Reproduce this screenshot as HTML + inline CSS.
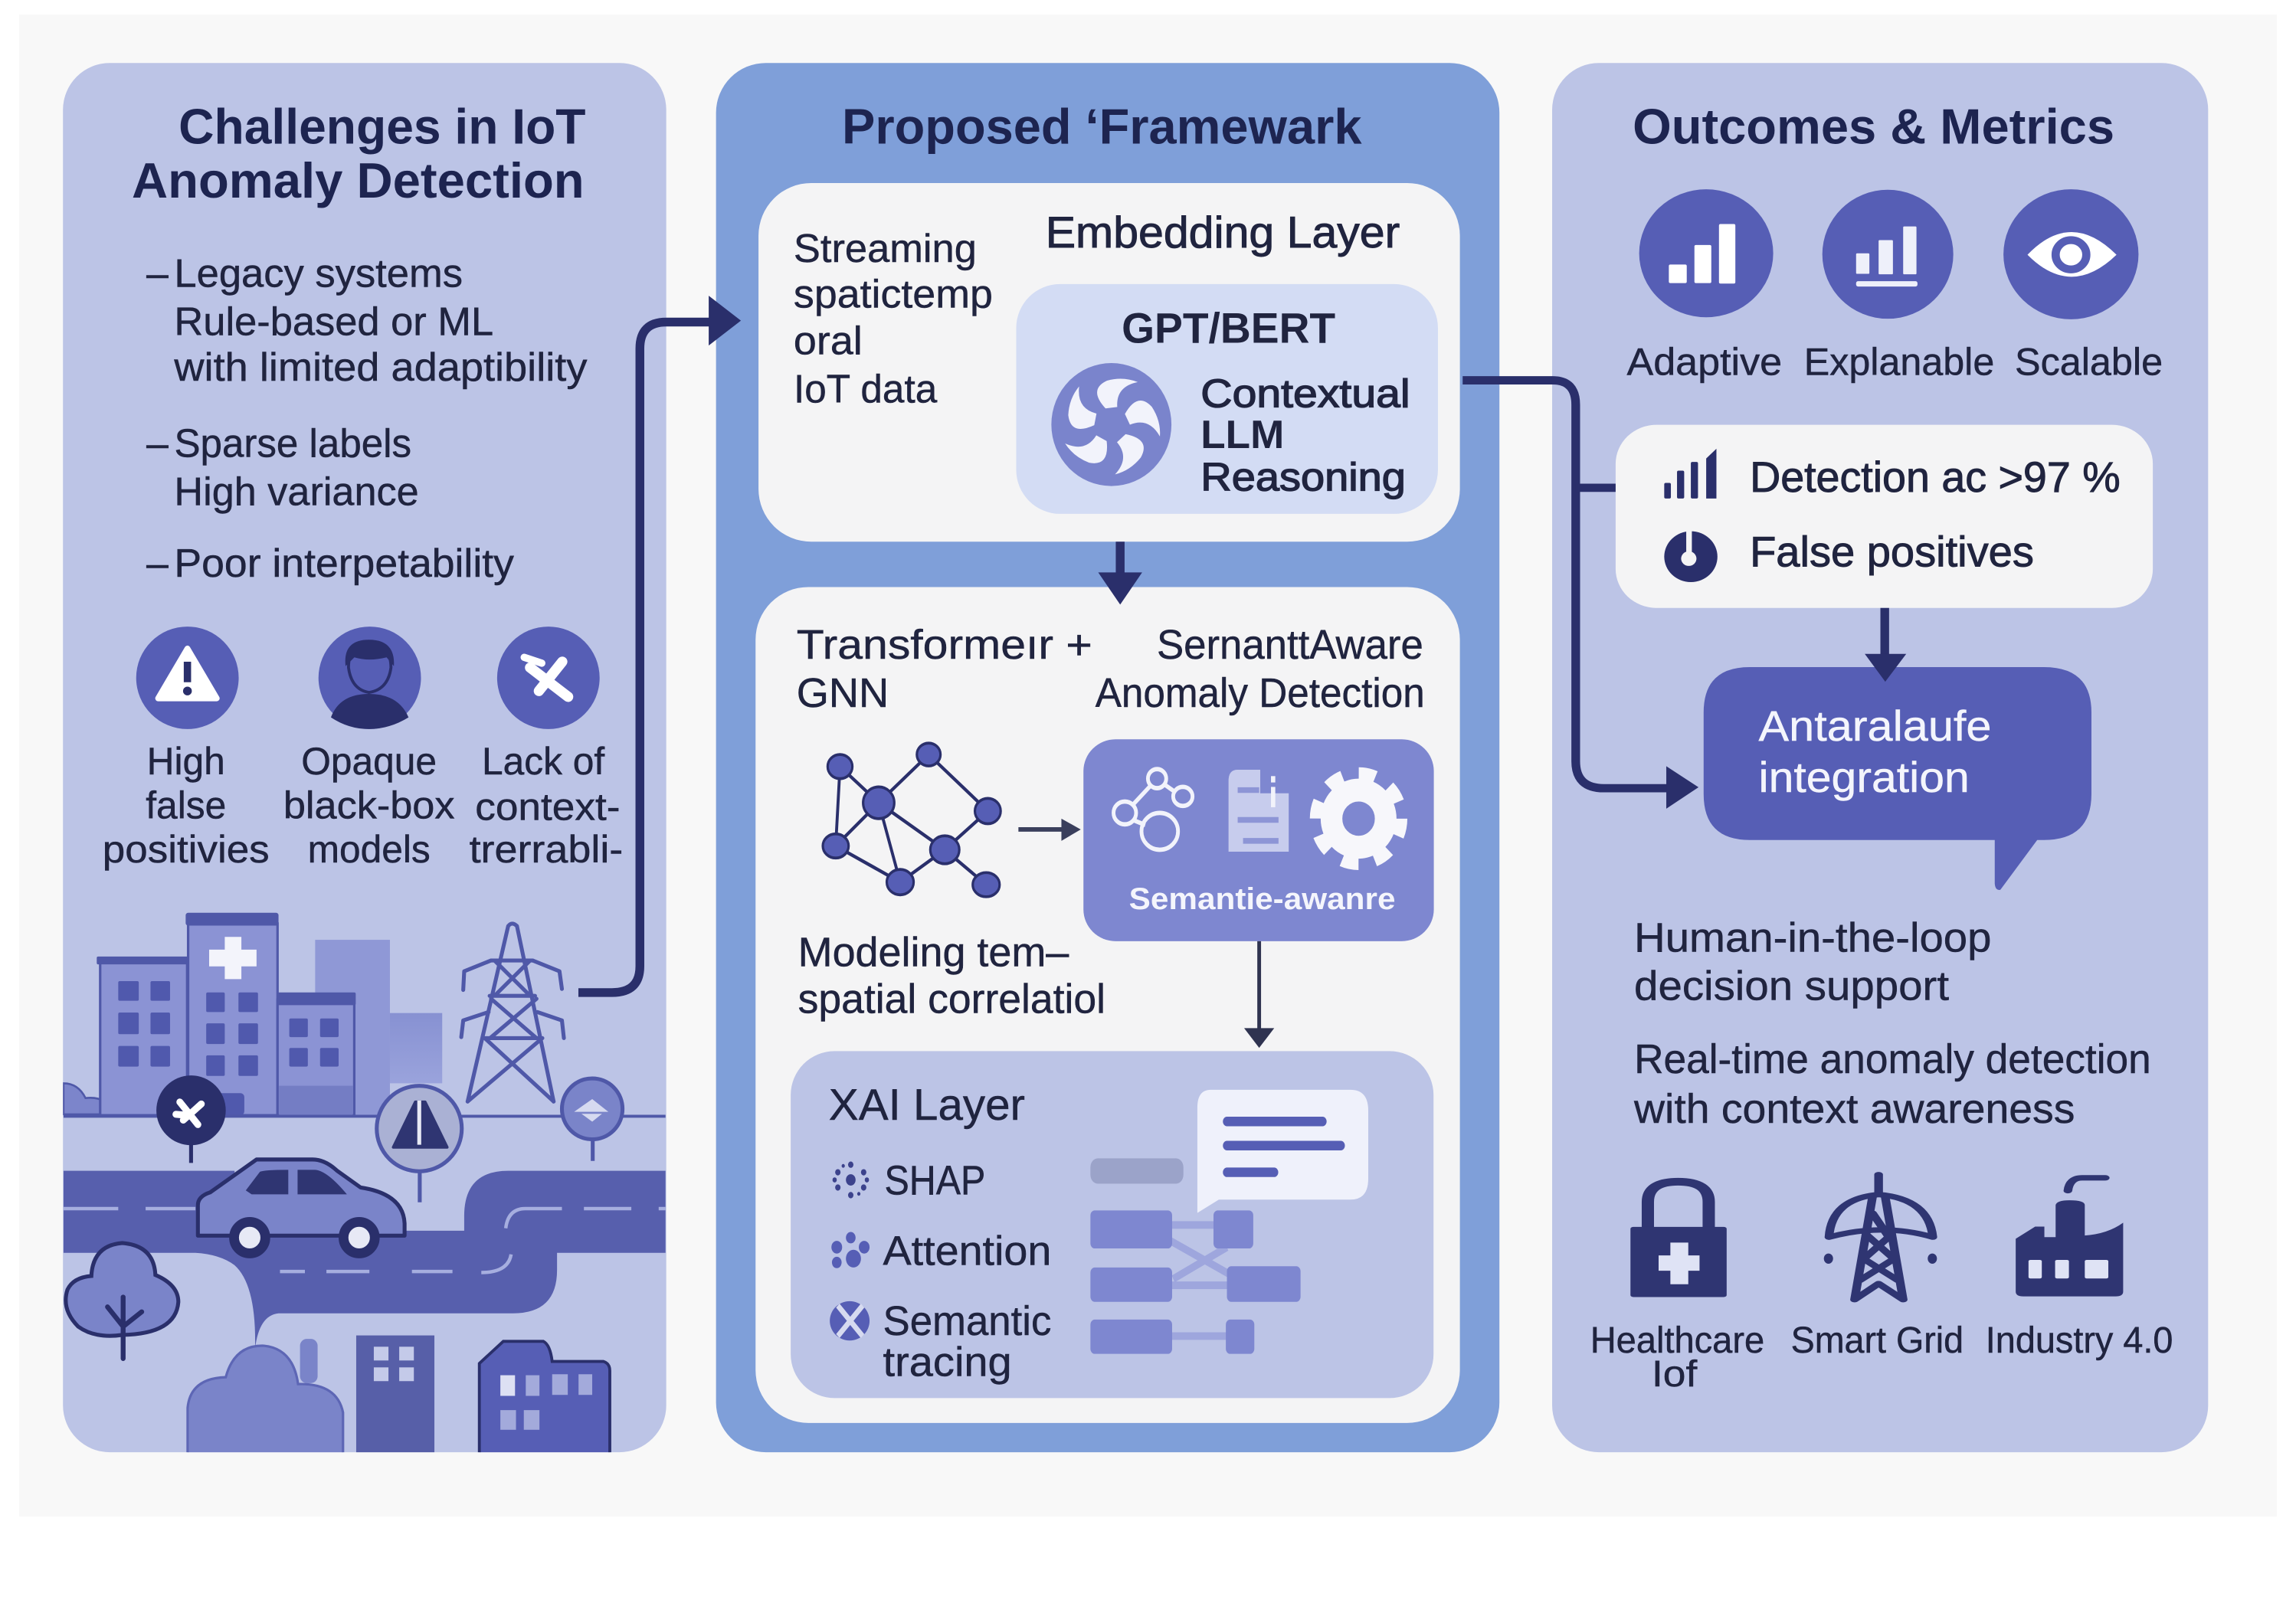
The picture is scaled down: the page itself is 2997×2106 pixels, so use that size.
<!DOCTYPE html>
<html>
<head>
<meta charset="utf-8">
<style>
html,body{margin:0;padding:0;background:#fff;width:2997px;height:2106px;overflow:hidden}
svg{display:block}
text{font-family:"Liberation Sans",sans-serif;fill:#20243f;stroke:#20243f;stroke-width:.25px}
text.w{fill:#f4f5fc;stroke:#f4f5fc}
.t{font-size:34px;font-weight:bold;fill:#1d2450;stroke:none}
.b{font-size:27px}
.m{font-size:26px}
</style>
</head>
<body>
<svg xmlns="http://www.w3.org/2000/svg" width="2997" height="2106" viewBox="0 0 1568 1101.8">
<defs>
<clipPath id="lp"><rect x="43" y="43" width="412" height="949" rx="32"/></clipPath>
<linearGradient id="bgb" x1="0" y1="0" x2="0" y2="1"><stop offset="0" stop-color="#8791d2"/><stop offset="1" stop-color="#9aa3dc"/></linearGradient>
</defs>
<rect width="1568" height="1102" fill="#fff"/>
<rect x="13" y="10" width="1542" height="1026" fill="#f8f8f8"/>
<rect x="43" y="43" width="412" height="949" rx="32" fill="#bcc4e6"/>
<rect x="489" y="43" width="535" height="949" rx="34" fill="#7f9fd9"/>
<rect x="1060" y="43" width="448" height="949" rx="32" fill="#bcc4e6"/>

<!-- LEFT TEXT -->
<text class="t" x="122" y="98" textLength="278" lengthAdjust="spacingAndGlyphs">Challenges in IoT</text>
<text class="t" x="90" y="135" textLength="309" lengthAdjust="spacingAndGlyphs">Anomaly Detection</text>
<g class="b">
<text x="100" y="196">–</text>
<text x="119" y="196" textLength="197" lengthAdjust="spacingAndGlyphs">Legacy systems</text>
<text x="119" y="229" textLength="218" lengthAdjust="spacingAndGlyphs">Rule-based or ML</text>
<text x="119" y="260" textLength="282" lengthAdjust="spacingAndGlyphs">with limited adaptibility</text>
<text x="100" y="312">–</text>
<text x="119" y="312" textLength="162" lengthAdjust="spacingAndGlyphs">Sparse labels</text>
<text x="119" y="345" textLength="167" lengthAdjust="spacingAndGlyphs">High variance</text>
<text x="100" y="394">–</text>
<text x="119" y="394" textLength="232" lengthAdjust="spacingAndGlyphs">Poor interpetability</text>
</g>

<!-- left icons -->
<circle cx="128" cy="463" r="35" fill="#565eb5"/>
<path d="M128 443 L148 477 H108 Z" fill="#fff" stroke="#fff" stroke-width="4" stroke-linejoin="round"/>
<rect x="125.500" y="452" width="5" height="14" fill="#2a2f6b"/><circle cx="128" cy="472" r="3" fill="#2a2f6b"/>
<circle cx="252.500" cy="463" r="35" fill="#565eb5"/>
<path d="M226 490 Q232 474 252 474 Q272 474 279 490 Q266 498 252 498 Q238 498 226 490Z" fill="#2a2f6b"/>
<path d="M238 456 Q238 440 252 440 Q267 440 267 456 Q265 471 252 473 Q240 471 238 456Z" fill="#565eb5" stroke="#2a2f6b" stroke-width="2"/>
<path d="M236 455 Q234 437 252 437 Q270 437 269 455 L264 449 Q252 452 242 449Z" fill="#2a2f6b"/>
<circle cx="374.500" cy="463" r="35" fill="#565eb5"/>
<path d="M362 456 L388 476 M384 452 L368 472" stroke="#fff" stroke-width="7" stroke-linecap="round" fill="none"/>
<path d="M358 449 L370 453" stroke="#fff" stroke-width="5" stroke-linecap="round"/>

<g class="m" text-anchor="middle" style="font-size:26px">
<text x="127" y="529">High</text>
<text x="127" y="559">false</text>
<text x="127" y="589" textLength="114" lengthAdjust="spacingAndGlyphs">positivies</text>
<text x="252" y="529">Opaque</text>
<text x="252" y="559" textLength="117" lengthAdjust="spacingAndGlyphs">black-box</text>
<text x="252" y="589">models</text>
<text x="371" y="529">Lack of</text>
<text x="374" y="560" textLength="99" lengthAdjust="spacingAndGlyphs">context-</text>
<text x="373" y="589" textLength="105" lengthAdjust="spacingAndGlyphs">trerrabli-</text>
</g>

<!-- CITY ILLUSTRATION -->
<g clip-path="url(#lp)">
<g transform="translate(0,575.5) scale(.3337,.3357)">
<rect x="645" y="198" width="153" height="360" fill="#8f98d6"/>
<rect x="798" y="347" width="107" height="143" fill="url(#bgb)"/>
<path d="M130 490 Q160 490 175 520 Q220 515 232 553 H130Z" fill="#7c85cb" stroke="#4f58a8" stroke-width="4"/>
<rect x="205" y="245" width="178" height="310" fill="#8b93d4" stroke="#4f58a8" stroke-width="5"/>
<rect x="198" y="232" width="187" height="16" rx="3" fill="#4f58a8"/>
<g fill="#5059ad">
<rect x="242" y="282" width="42" height="40" rx="3"/><rect x="308" y="282" width="40" height="40" rx="3"/>
<rect x="242" y="346" width="42" height="44" rx="3"/><rect x="308" y="346" width="40" height="44" rx="3"/>
<rect x="242" y="414" width="42" height="42" rx="3"/><rect x="308" y="414" width="40" height="42" rx="3"/>
</g>
<rect x="385" y="165" width="183" height="390" fill="#8b93d4" stroke="#4f58a8" stroke-width="5"/>
<rect x="380" y="143" width="190" height="26" rx="5" fill="#4f58a8"/>
<path d="M460 192 H494 V218 H525 V252 H494 V278 H460 V252 H428 V218 H460Z" fill="#f3f4fb"/>
<g fill="#5059ad">
<rect x="422" y="305" width="38" height="40" rx="3"/><rect x="488" y="305" width="40" height="40" rx="3"/>
<rect x="422" y="368" width="38" height="42" rx="3"/><rect x="488" y="368" width="40" height="42" rx="3"/>
<rect x="422" y="433" width="38" height="42" rx="3"/><rect x="488" y="433" width="40" height="42" rx="3"/>
<rect x="440" y="510" width="60" height="45" rx="8"/>
</g>
<rect x="568" y="320" width="157" height="235" fill="#8b93d4" stroke="#4f58a8" stroke-width="5"/>
<rect x="568" y="305" width="160" height="26" rx="3" fill="#4f58a8"/>
<rect x="571" y="495" width="151" height="60" fill="#747dc4"/>
<g fill="#5059ad">
<rect x="592" y="358" width="38" height="38" rx="3"/><rect x="655" y="358" width="38" height="38" rx="3"/>
<rect x="592" y="418" width="38" height="38" rx="3"/><rect x="655" y="418" width="38" height="38" rx="3"/>
</g>
<!-- pylon -->
<g fill="none" stroke="#4f58a8" stroke-width="8" stroke-linecap="round" stroke-linejoin="round">
<path d="M957 527 L1040 170 Q1048 160 1058 170 L1133 527"/>
<path d="M1005 240 H1090 M1002 312 H1095 M992 398 H1110 M1012 240 L1085 312 M1085 240 L1012 312 M1005 318 L1098 398 M1098 318 L1003 398 M992 398 L1133 527 M1110 398 L957 527"/>
<path d="M1005 240 L950 262 L948 300 M1090 240 L1145 262 L1150 298"/>
<path d="M1000 345 L948 362 L944 396 M1100 345 L1150 362 L1154 398"/>
</g>
<line x1="130" y1="557" x2="1362" y2="557" stroke="#4f58a8" stroke-width="6"/>
<!-- road -->
<path d="M130 668 H480 V790 H950 V760 Q950 668 1040 668 H1362 V835 H1140 V870 Q1140 958 1050 958 H570 Q530 962 522 1030 Q525 900 480 860 Q450 838 400 835 H130Z" fill="#575fad"/>
<g fill="none" stroke="#a6aedf" stroke-width="7">
<path d="M130 745 H242 M298 745 H400"/>
<path d="M1035 785 Q1040 745 1075 745 H1150 M1195 745 H1292 M1348 745 H1362"/>
<path d="M573 873 H624 M668 873 H756 M843 873 H926 M985 875 Q1040 875 1046 838"/>
</g>
<!-- car -->
<path d="M405 800 V738 Q405 720 430 712 L525 645 H640 Q665 645 690 668 L738 702 Q825 715 828 775 V800Z" fill="#7a84c9" stroke="#2a2f6b" stroke-width="8" stroke-linejoin="round"/>
<path d="M503 708 L532 670 Q540 666 590 666 V716 H515Z" fill="#2f3572"/>
<path d="M609 666 H645 Q670 668 710 716 H609Z" fill="#2f3572"/>
<circle cx="511" cy="804" r="32" fill="#e7e9f5" stroke="#2a2f6b" stroke-width="20"/>
<circle cx="735" cy="804" r="32" fill="#e7e9f5" stroke="#2a2f6b" stroke-width="20"/>
<!-- signs -->
<line x1="391" y1="600" x2="391" y2="652" stroke="#2a2f6b" stroke-width="8"/>
<circle cx="391" cy="545" r="71" fill="#2a2f6b"/>
<path d="M368 528 L405 574 M412 532 L375 565 M360 553 L382 555" stroke="#fff" stroke-width="14" stroke-linecap="round"/>
<line x1="859" y1="665" x2="859" y2="732" stroke="#4f58a8" stroke-width="8"/>
<circle cx="858" cy="582" r="87" fill="#aab1d4" stroke="#4f58a8" stroke-width="8"/>
<path d="M850 528 L805 620 H915 L870 528 Z" fill="#2f3572" stroke="#2f3572" stroke-width="6" stroke-linejoin="round"/>
<rect x="854" y="525" width="8" height="90" fill="#e7e9f5"/>
<line x1="1213" y1="600" x2="1213" y2="648" stroke="#4f58a8" stroke-width="8"/>
<circle cx="1212" cy="542" r="62" fill="#7a84c9" stroke="#4f58a8" stroke-width="8"/>
<path d="M1212 522 L1245 548 H1175Z M1190 552 H1232 L1212 568Z" fill="#d6daf0"/>
<!-- tree -->
<path d="M250 1002 Q195 1010 160 985 Q125 950 138 910 Q150 885 187 882 Q190 820 250 815 Q315 820 318 880 Q365 900 365 935 Q360 1000 250 1002Z" fill="#7a84c9" stroke="#2a2f6b" stroke-width="8"/>
<path d="M252 925 V1050 M220 945 L252 985 L290 955" fill="none" stroke="#2a2f6b" stroke-width="10" stroke-linecap="round"/>
<!-- bottom -->
<rect x="614" y="1010" width="36" height="90" rx="14" fill="#7a84c9"/>
<path d="M384 1245 V1150 Q390 1090 462 1088 Q480 1022 540 1024 Q600 1030 610 1102 Q690 1100 702 1160 V1245Z" fill="#7a84c9" stroke="#5d66b5" stroke-width="5"/>
<rect x="729" y="1003" width="160" height="242" fill="#575fa8"/>
<g fill="#c4cae9"><rect x="765" y="1026" width="30" height="28"/><rect x="817" y="1026" width="30" height="28"/><rect x="765" y="1068" width="30" height="28"/><rect x="817" y="1068" width="30" height="28"/></g>
<path d="M981 1245 V1060 L1030 1015 H1112 Q1126 1022 1130 1056 H1235 Q1248 1060 1248 1075 V1245Z" fill="#565eb5" stroke="#2a2f6b" stroke-width="6"/>
<rect x="1024" y="1084" width="30" height="42" fill="#dde0f3"/>
<g fill="#a3aadb"><rect x="1076" y="1084" width="28" height="42"/><rect x="1130" y="1082" width="32" height="42"/><rect x="1184" y="1082" width="28" height="42"/><rect x="1024" y="1155" width="32" height="40"/><rect x="1072" y="1155" width="32" height="40"/></g>
</g>
</g>

<!-- MIDDLE -->
<text class="t" x="575" y="98" textLength="355" lengthAdjust="spacingAndGlyphs">Proposed ‘Framewark</text>
<rect x="518" y="125" width="479" height="245" rx="36" fill="#f4f4f5"/>
<g class="b">
<text x="542" y="179" textLength="125" lengthAdjust="spacingAndGlyphs">Streaming</text>
<text x="542" y="210" textLength="136" lengthAdjust="spacingAndGlyphs">spatictemp</text>
<text x="542" y="242" textLength="47" lengthAdjust="spacingAndGlyphs">oral</text>
<text x="542" y="275" textLength="98" lengthAdjust="spacingAndGlyphs">IoT data</text>
</g>
<text x="714" y="169" style="font-size:30px;stroke-width:.5px" textLength="242" lengthAdjust="spacingAndGlyphs">Embedding Layer</text>
<rect x="694" y="194" width="288" height="157" rx="30" fill="#d3dcf4"/>
<text x="766" y="234" style="font-size:29px;font-weight:bold;stroke:none" textLength="146" lengthAdjust="spacingAndGlyphs">GPT/BERT</text>
<ellipse cx="759" cy="290" rx="41" ry="42" fill="#7a84cc"/>
<g transform="translate(759,290)" fill="#f2f3fb">
<path d="M-4 -11 Q-16 -24 -3 -30 Q8 -33 18 -29 Q3 -26 4 -12Z"/>
<path transform="rotate(72)" d="M-4 -11 Q-16 -24 -3 -30 Q8 -33 18 -29 Q3 -26 4 -12Z"/>
<path transform="rotate(144)" d="M-4 -11 Q-16 -24 -3 -30 Q8 -33 18 -29 Q3 -26 4 -12Z"/>
<path transform="rotate(216)" d="M-4 -11 Q-16 -24 -3 -30 Q8 -33 18 -29 Q3 -26 4 -12Z"/>
<path transform="rotate(288)" d="M-4 -11 Q-16 -24 -3 -30 Q8 -33 18 -29 Q3 -26 4 -12Z"/>
</g>
<text x="820" y="278" style="font-size:27px;stroke-width:.7px" textLength="143" lengthAdjust="spacingAndGlyphs">Contextual</text>
<text x="820" y="306" style="font-size:27px;font-weight:bold;stroke:none" textLength="57" lengthAdjust="spacingAndGlyphs">LLM</text>
<text x="820" y="335" style="font-size:27px;stroke-width:.7px" textLength="140" lengthAdjust="spacingAndGlyphs">Reasoning</text>

<rect x="516" y="401" width="481" height="571" rx="36" fill="#f4f4f5"/>
<line x1="765" y1="370" x2="765" y2="396" stroke="#2a2f6b" stroke-width="6"/>
<path d="M750 391 H780 L765 413Z" fill="#2a2f6b"/>
<g style="font-size:28px">
<text x="544" y="450" textLength="202" lengthAdjust="spacingAndGlyphs">Transformeır +</text>
<text x="544" y="483" textLength="63" lengthAdjust="spacingAndGlyphs">GNN</text>
<text x="790" y="450" textLength="182" lengthAdjust="spacingAndGlyphs">SernanttAware</text>
<text x="748" y="483" textLength="225" lengthAdjust="spacingAndGlyphs">Anomaly Detection</text>
<text x="545" y="660" textLength="185" lengthAdjust="spacingAndGlyphs">Modeling tem–</text>
<text x="545" y="692" textLength="210" lengthAdjust="spacingAndGlyphs">spatial correlatiol</text>
</g>
<rect x="540" y="718" width="439" height="237" rx="30" fill="#bcc4e6"/>

<g transform="translate(470.9,366.2) scale(.367,.4337)">
<!-- network -->
<g stroke="#2a2f6b" stroke-width="5.500" fill="none">
<path d="M280 363 L352 420 M280 363 L272 488 M352 420 L445 344 M445 344 L555 433 M352 420 L272 488 M352 420 L392 545 M352 420 L475 494 M272 488 L392 545 M392 545 L475 494 M475 494 L555 433 M475 494 L552 549"/>
</g>
<g fill="#565eb5" stroke="#2a2f6b" stroke-width="4.500">
<ellipse cx="280" cy="363" rx="23" ry="19"/><ellipse cx="445" cy="344" rx="22" ry="18"/><ellipse cx="352" cy="420" rx="29" ry="25"/><ellipse cx="555" cy="433" rx="24" ry="20"/><ellipse cx="272" cy="488" rx="24" ry="19"/><ellipse cx="475" cy="494" rx="27" ry="22"/><ellipse cx="392" cy="545" rx="25" ry="20"/><ellipse cx="552" cy="549" rx="25" ry="19"/>
</g>
<line x1="612" y1="462" x2="700" y2="462" stroke="#3a3f5c" stroke-width="7"/>
<path d="M692 445 L728 462 L692 480Z" fill="#3a3f5c"/>
<!-- semantic box -->
<rect x="733" y="320" width="652" height="318" rx="60" ry="50" fill="#7e87d0"/>
<g fill="none" stroke="#f2f3fb" stroke-width="7">
<ellipse cx="870" cy="382" rx="17" ry="15"/><ellipse cx="918" cy="410" rx="18" ry="15"/><ellipse cx="810" cy="436" rx="21" ry="18"/><ellipse cx="875" cy="465" rx="34" ry="29"/>
<path d="M858 393 L824 424 M885 392 L902 402 M828 448 L848 455"/>
</g>
<path d="M1003 385 Q1003 368 1020 368 H1062 V405 H1115 V497 H1003Z" fill="#c7cced"/>
<rect x="1082" y="378" width="8" height="10" fill="#f2f3fb"/><rect x="1082" y="395" width="8" height="32" fill="#f2f3fb"/>
<path d="M1020 400 H1060 M1020 447 H1096 M1030 480 H1096" stroke="#8d95d6" stroke-width="9"/>
<g transform="translate(1245,445) scale(1.12,1)">
<circle r="68" fill="none" stroke="#f7f7fb" stroke-width="26" stroke-dasharray="27 26.400"/>
<circle r="45" fill="none" stroke="#f7f7fb" stroke-width="36"/>
<circle r="20" fill="#7e87d0"/>
</g>
<line x1="1060" y1="638" x2="1060" y2="782" stroke="#2f3350" stroke-width="7"/>
<path d="M1032 775 H1088 L1060 806Z" fill="#2f3350"/>
<!-- xai graphics -->
<rect x="746" y="980" width="173" height="40" rx="14" fill="#9ba3c9"/>
<g stroke="#9ea6dd" stroke-width="12" fill="none">
<path d="M895 1085 H985 M895 1110 L1010 1165 M1000 1120 L900 1170 M895 1180 H1005 M895 1260 H1005"/>
</g>
<g fill="#7e87d0">
<rect x="746" y="1062" width="152" height="60" rx="8"/><rect x="975" y="1062" width="74" height="60" rx="8"/>
<rect x="746" y="1152" width="152" height="54" rx="8"/><rect x="1000" y="1150" width="137" height="56" rx="8"/>
<rect x="746" y="1234" width="152" height="54" rx="8"/><rect x="998" y="1234" width="53" height="54" rx="8"/>
</g>
<path d="M970 872 H1230 Q1263 872 1263 905 V1012 Q1263 1045 1230 1045 H985 L945 1066 V900 Q945 872 970 872Z" fill="#eff1fb"/>
<g stroke-linecap="round" stroke="#565eb5" stroke-width="15">
<line x1="1000" y1="922" x2="1178" y2="922"/><line x1="1000" y1="960" x2="1212" y2="960"/><line x1="1000" y1="1002" x2="1088" y2="1002"/>
</g>
<!-- list icons -->
<g fill="#3c428c">
<circle cx="300" cy="1014" r="9"/><circle cx="300" cy="990" r="5"/><circle cx="300" cy="1038" r="5"/><circle cx="276" cy="1002" r="5"/><circle cx="276" cy="1026" r="5"/><circle cx="324" cy="1002" r="5"/><circle cx="324" cy="1026" r="5"/><circle cx="270" cy="1014" r="4"/><circle cx="330" cy="1014" r="4"/><circle cx="286" cy="992" r="3"/><circle cx="315" cy="1036" r="3"/>
</g>
<g fill="#565eb5">
<circle cx="300" cy="1105" r="9"/><circle cx="325" cy="1120" r="10"/><circle cx="305" cy="1138" r="14"/><circle cx="274" cy="1120" r="10"/><circle cx="274" cy="1144" r="9"/>
</g>
<ellipse cx="298" cy="1236" rx="37" ry="31" fill="#565eb5"/>
<path d="M276 1212 L322 1260 M322 1212 L276 1260" stroke="#d6daf0" stroke-width="9"/>
</g>
<text class="w" x="771" y="621" style="font-size:21px;font-weight:bold;stroke:none" textLength="182" lengthAdjust="spacingAndGlyphs">Semantie-awanre</text>
<text x="566" y="765" style="font-size:30px" textLength="134" lengthAdjust="spacingAndGlyphs">XAI Layer</text>
<g style="font-size:28px">
<text x="604" y="816" textLength="69" lengthAdjust="spacingAndGlyphs">SHAP</text>
<text x="603" y="864" textLength="115" lengthAdjust="spacingAndGlyphs">Attention</text>
<text x="603" y="912" textLength="115" lengthAdjust="spacingAndGlyphs">Semantic</text>
<text x="603" y="940" textLength="88" lengthAdjust="spacingAndGlyphs">tracing</text>
</g>

<!-- RIGHT -->
<text class="t" x="1115" y="98" textLength="329" lengthAdjust="spacingAndGlyphs">Outcomes &amp; Metrics</text>
<g transform="translate(1020.2,104.600) scale(.3494,.3337)">
<circle cx="415" cy="205" r="131" fill="#565eb5"/>
<g fill="#fff"><rect x="342" y="228" width="35" height="38" rx="3"/><rect x="392" y="188" width="33" height="78" rx="3"/><rect x="440" y="145" width="32" height="122" rx="3"/></g>
<ellipse cx="770" cy="207" rx="128" ry="132" fill="#565eb5"/>
<g fill="#eef0fa"><rect x="708" y="205" width="26" height="42" rx="2"/><rect x="752" y="178" width="28" height="70" rx="2"/><rect x="800" y="150" width="26" height="98" rx="2"/><rect x="708" y="262" width="120" height="11" rx="4"/></g>
<ellipse cx="1128" cy="207" rx="132" ry="133" fill="#565eb5"/>
<path d="M1043 208 Q1128 115 1217 208 Q1128 298 1043 208Z" fill="#fff"/>
<circle cx="1128" cy="208" r="30" fill="#fff" stroke="#565eb5" stroke-width="16"/>
<!-- white box -->
<rect x="238" y="556" width="1050" height="375" rx="80" fill="#f4f4f5"/>
<g fill="#2a2f6b">
<rect x="333" y="675" width="13" height="32" rx="3"/><rect x="358" y="650" width="14" height="57" rx="3"/><rect x="385" y="632" width="14" height="75" rx="3"/><path d="M415 625 L435 605 V707 H415Z"/>
<circle cx="385" cy="826" r="52"/>
</g>
<rect x="376" y="770" width="11" height="50" fill="#f4f4f5"/><circle cx="381" cy="830" r="15" fill="#f4f4f5"/>
<!-- connectors -->
<g fill="none" stroke="#2a2f6b" stroke-width="17">
<path d="M-61 465 H115 Q160 465 160 515 V1245 Q160 1300 215 1300 H350"/>
<path d="M160 685 H238"/>
<path d="M764 931 V1040"/>
</g>
<path d="M337 1255 L400 1298 L337 1342Z" fill="#2a2f6b"/>
<!-- callout -->
<path d="M500 1052 H1075 Q1168 1052 1168 1145 V1312 Q1168 1406 1075 1406 H1062 L990 1508 Q980 1510 979 1495 V1406 H500 Q410 1406 410 1312 V1145 Q410 1052 500 1052Z" fill="#565eb5"/>
<path d="M725 1025 H806 L765 1082Z" fill="#2a2f6b"/>
</g>
<g style="font-size:26px">
<text x="1111" y="256" textLength="106" lengthAdjust="spacingAndGlyphs">Adaptive</text>
<text x="1232" y="256" textLength="130" lengthAdjust="spacingAndGlyphs">Explanable</text>
<text x="1376" y="256" textLength="101" lengthAdjust="spacingAndGlyphs">Scalable</text>
</g>
<text x="1195" y="336" style="font-size:29px;stroke-width:.5px" textLength="253" lengthAdjust="spacingAndGlyphs">Detection ac &gt;97 %</text>
<text x="1195" y="387" style="font-size:29px;stroke-width:.5px" textLength="194" lengthAdjust="spacingAndGlyphs">False positives</text>
<text class="w" x="1201" y="506" style="font-size:29px" textLength="159" lengthAdjust="spacingAndGlyphs">Antaralaufe</text>
<text class="w" x="1201" y="541" style="font-size:29px" textLength="144" lengthAdjust="spacingAndGlyphs">integration</text>
<g style="font-size:28px;">
<text x="1116" y="650" textLength="244" lengthAdjust="spacingAndGlyphs">Human-in-the-loop</text>
<text x="1116" y="683" textLength="215" lengthAdjust="spacingAndGlyphs">decision support</text>
<text x="1116" y="733" textLength="353" lengthAdjust="spacingAndGlyphs">Real-time anomaly detection</text>
<text x="1116" y="767" textLength="301" lengthAdjust="spacingAndGlyphs">with context awareness</text>
</g>
<g transform="translate(1020.2,758.600) scale(.3494,.2189)">
<!-- lock -->
<path d="M301 370 V285 Q301 222 360 222 Q420 222 420 285 V370" fill="none" stroke="#2f3572" stroke-width="24"/>
<rect x="267" y="363" width="188" height="219" rx="6" fill="#2f3572"/>
<path d="M345 412 H380 V452 H402 V500 H380 V542 H345 V500 H322 V452 H345Z" fill="#dfe3f5"/>
<!-- tower -->
<g fill="none" stroke="#2f3572" stroke-width="17" stroke-linejoin="round" stroke-linecap="round">
<path d="M752 200 V262"/>
<path d="M655 395 Q660 275 752 262 Q850 275 858 395 Q760 350 655 395Z"/>
<path d="M705 590 L740 270 M800 590 L765 270 M720 460 L790 530 M785 460 L715 530 M730 390 L780 460 M775 390 L725 460 M740 320 L770 390 M705 590 L752 540 L800 590"/>
</g>
<ellipse cx="654" cy="462" rx="9" ry="16" fill="#2f3572"/><ellipse cx="857" cy="462" rx="9" ry="16" fill="#2f3572"/>
<!-- factory -->
<path d="M1020 400 L1058 362 H1076 V395 H1098 V295 Q1100 280 1125 280 Q1155 280 1155 295 V390 Q1200 385 1230 350 V565 Q1230 580 1215 580 H1035 Q1020 580 1020 565Z" fill="#2f3572"/>
<path d="M1122 250 Q1125 210 1150 210 H1195" fill="none" stroke="#2f3572" stroke-width="17" stroke-linecap="round"/>
<g fill="#dfe3f5"><rect x="1045" y="466" width="26" height="58" rx="4"/><rect x="1097" y="466" width="27" height="58" rx="4"/><rect x="1155" y="466" width="46" height="58" rx="4"/></g>
</g>
<g style="font-size:25px">
<text x="1086" y="924" textLength="119" lengthAdjust="spacingAndGlyphs">Healthcare</text>
<text x="1128" y="947" textLength="31" lengthAdjust="spacingAndGlyphs">Iof</text>
<text x="1223" y="924" textLength="118" lengthAdjust="spacingAndGlyphs">Smart Grid</text>
<text x="1356" y="924" textLength="128" lengthAdjust="spacingAndGlyphs">Industry 4.0</text>
</g>

<!-- left connector -->
<path d="M395 678 H418 Q437 678 437 660 V238 Q437 220 455 220 H488" fill="none" stroke="#2a2f6b" stroke-width="6"/>
<path d="M484 202 L506 219 L484 236Z" fill="#2a2f6b"/>
</svg>
</body>
</html>
